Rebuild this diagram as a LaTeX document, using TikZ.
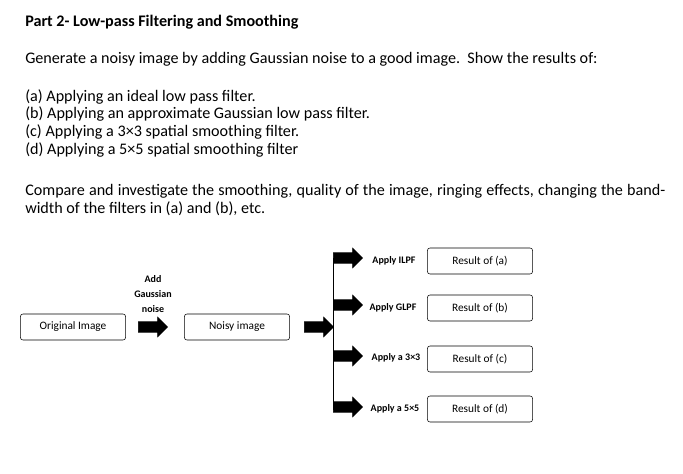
\documentclass[tikz,border=0pt]{standalone}
\usepackage{fontspec}
\setmainfont{Carlito}
\usetikzlibrary{shapes.arrows}
\tikzset{
  box/.style={draw,rounded corners=2pt,minimum width=79pt,minimum height=19.5pt,inner sep=0pt,font=\fontsize{8.5}{10}\selectfont},
  blk/.style={single arrow,fill=black,draw=black,minimum height=22pt,minimum width=15pt,single arrow head extend=2pt,inner sep=2pt,anchor=west},
  lbl/.style={font=\bfseries\fontsize{7.5}{11}\selectfont,align=center},
  txt/.style={anchor=north west,inner sep=0pt,font=\fontsize{12.1}{13.3}\selectfont}
}
\begin{document}
\begin{tikzpicture}[x=0.75pt,y=-0.75pt]
    % Rahmen
    \useasboundingbox (0,0) rectangle (683,474);
    % Text
    \node[txt,font=\bfseries\fontsize{12.1}{13}\selectfont] (title) at (25,15) {Part 2- Low-pass Filtering and Smoothing};
    \node[txt] (intro) at (25,52) {Generate a noisy image by adding Gaussian noise to a good image.\ \ Show the results of:};
    \node[txt,align=left] (items) at (25,89) {(a) Applying an ideal low pass filter.\\(b) Applying an approximate Gaussian low pass filter.\\(c) Applying a 3×3 spatial smoothing filter.\\(d) Applying a 5×5 spatial smoothing filter};
    \node[txt,text width=480pt,align=justify] (comp) at (25,184) {\hyphenpenalty=10000 Compare and investigate the smoothing, quality of the image, ringing effects, changing the bandwidth of the filters in (a) and (b), etc.};
    % Bauelemente
    \node[box] (orig) at (73,327) {Original Image};
    \node[box] (noisy) at (237,327) {Noisy image};
    \node[box] (ra) at (480,261) {Result of (a)};
    \node[box] (rb) at (480,308) {Result of (b)};
    \node[box] (rc) at (480,359) {Result of (c)};
    \node[box] (rd) at (480,409) {Result of (d)};
    % Pfeile
    \node[blk] (a0) at (138,327) {};
    \node[blk] (a1) at (304,327) {};
    \node[lbl] (noise) at (153,294) {Add\\Gaussian\\noise};
    \coordinate (top) at (333,258);
    \coordinate (bot) at (333,410);
    \draw (top) -- (bot);
    \node[blk] (ba) at (333,258) {};
    \node[blk] (bb) at (333,305) {};
    \node[blk] (bc) at (333,356) {};
    \node[blk] (bd) at (333,407) {};
    % Labels
    \node[lbl] (la) at (394,261) {Apply ILPF};
    \node[lbl] (lb) at (393,308) {Apply GLPF};
    \node[lbl] (lc) at (396,358) {Apply a 3×3};
    \node[lbl] (ld) at (395,409) {Apply a 5×5};
\end{tikzpicture}
\end{document}
